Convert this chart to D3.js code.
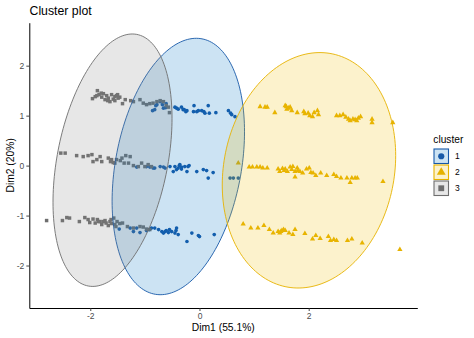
<!DOCTYPE html>
<html><head><meta charset="utf-8">
<script src="https://cdn.jsdelivr.net/npm/d3@7"></script>
<style>body{margin:0;background:#fff}svg{display:block;font-family:"Liberation Sans",Arial,sans-serif}</style>
</head><body><div id="chart"></div>
<script>
// ---------- data ----------
const clusters = ["1", "2", "3"];
const fillColors = ["#0073C2", "#EFC000", "#868686"];
const markColors = ["#1759A8", "#E6B200", "#6E6E6E"];
const shapes = ["circle", "triangle", "square"];

// cluster 1 (blue circles): [Dim1, Dim2]
const cluster1 = [
  [-0.82,1.12],[-0.78,1.22],[-0.72,1.28],[-0.66,1.15],[-0.61,1.24],[-0.45,1.17],[-0.42,1.15],[-0.39,1.13],
  [-0.33,1.17],[-0.30,1.12],[-0.28,1.12],[-0.25,1.08],[-0.23,1.10],[-0.10,1.20],[-0.11,1.08],[-0.05,1.08],
  [-0.02,1.10],[0.04,1.10],[0.08,1.08],[0.10,1.05],[0.16,1.20],[0.18,1.05],[0.30,1.06],[0.53,1.10],
  [0.57,1.05],[0.59,1.02],[0.65,0.98],[-0.86,1.10],[-0.80,1.20],[-0.68,1.22],[-0.62,1.16],
  [-1.15,-0.03],[-0.97,-0.02],[-0.82,-0.05],[-0.72,-0.02],[-0.63,-0.05],[-0.54,-0.02],[-0.48,-0.12],
  [-0.45,-0.02],[-0.42,-0.08],[-0.37,0.00],[-0.33,-0.07],[-0.27,-0.02],[-0.21,-0.02],[-0.05,-0.12],
  [0.07,-0.08],[0.13,-0.10],[0.16,-0.25],[0.25,-0.14],[0.56,-0.25],[0.62,-0.25],[0.71,-0.25],
  [-0.91,-0.03],[-0.85,-0.05],[-0.66,-0.03],[-0.39,-0.05],[-0.36,0.02],[-0.33,-0.03],[-0.23,-0.12],[-0.19,0.00],
  [-1.47,-1.27],[-1.27,-1.25],[-1.21,-1.32],[-1.15,-1.25],[-1.09,-1.34],[-0.92,-1.28],[-0.82,-1.25],
  [-0.75,-1.28],[-0.69,-1.32],[-0.66,-1.35],[-0.61,-1.30],[-0.57,-1.34],[-0.51,-1.32],[-0.45,-1.35],
  [-0.42,-1.25],[-0.39,-1.38],[-0.23,-1.52],[-0.14,-1.35],[0.00,-1.42],[0.27,-1.38],
  [-0.97,-1.30],[-0.88,-1.25],[-0.63,-1.32],[-0.55,-1.28],[-0.43,-1.30],[-0.02,-1.40]
];
// cluster 2 (yellow triangles)
const cluster2 = [
  [1.11,1.18],[1.20,1.17],[1.24,1.17],[1.38,1.06],[1.57,1.20],[1.60,1.13],[1.66,1.17],[1.69,1.10],
  [1.79,1.06],[1.91,1.08],[1.93,1.04],[1.99,1.05],[2.02,1.00],[2.07,0.98],[2.10,1.06],[2.16,1.10],
  [2.18,1.02],[2.51,1.00],[2.57,1.00],[2.63,1.02],[2.68,0.97],[2.73,0.93],[2.76,0.90],[2.81,0.93],
  [2.85,0.92],[2.91,0.95],[2.95,0.98],[3.16,0.93],[3.16,0.86],[3.54,0.86],[1.59,1.18],[1.63,1.15],[2.88,0.90],
  [0.71,0.05],[0.91,-0.03],[0.97,-0.03],[1.05,-0.03],[1.11,-0.03],[1.16,-0.05],[1.24,-0.05],[1.44,-0.07],
  [1.47,-0.12],[1.57,-0.07],[1.61,-0.12],[1.66,-0.03],[1.69,-0.08],[1.75,-0.12],[1.75,-0.23],[1.79,-0.05],
  [1.84,-0.12],[1.89,-0.15],[1.96,-0.07],[2.01,-0.05],[2.04,-0.14],[2.08,-0.15],[2.13,-0.20],[2.22,-0.15],
  [2.33,-0.20],[2.46,-0.18],[2.51,-0.22],[2.59,-0.25],[2.70,-0.25],[2.76,-0.34],[2.79,-0.25],[2.85,-0.25],
  [2.89,-0.25],[3.36,-0.32],[1.52,-0.06],[1.71,-0.02],[1.80,-0.10],[1.55,-0.10],
  [0.80,-1.17],[0.94,-1.25],[1.07,-1.25],[1.18,-1.20],[1.28,-1.28],[1.35,-1.35],[1.44,-1.32],[1.47,-1.35],
  [1.51,-1.30],[1.57,-1.30],[1.64,-1.35],[1.71,-1.38],[1.75,-1.28],[1.93,-1.36],[2.07,-1.47],[2.13,-1.40],
  [2.21,-1.46],[2.36,-1.42],[2.40,-1.50],[2.46,-1.48],[2.51,-1.50],[2.71,-1.50],[2.79,-1.47],[2.98,-1.55],
  [3.67,-1.68],[1.49,-1.32],[1.54,-1.28]
];
// cluster 3 (gray squares)
const cluster3 = [
  [-1.96,1.34],[-1.91,1.38],[-1.87,1.50],[-1.84,1.42],[-1.79,1.37],[-1.76,1.44],[-1.73,1.32],[-1.70,1.40],
  [-1.67,1.35],[-1.64,1.28],[-1.61,1.42],[-1.58,1.33],[-1.55,1.38],[-1.52,1.40],[-1.49,1.35],[-1.46,1.37],
  [-1.41,1.24],[-1.36,1.32],[-1.26,1.30],[-1.21,1.28],[-1.09,1.32],[-1.03,1.25],[-0.97,1.22],[-0.91,1.24],
  [-0.85,1.25],[-0.78,1.28],[-0.72,1.30],[-0.66,1.28],[-0.61,1.20],[-0.57,1.17],[-0.55,1.06],
  [-1.88,1.40],[-1.80,1.45],[-1.68,1.30],[-1.55,1.30],[-1.50,1.42],
  [-2.54,0.25],[-2.46,0.25],[-2.25,0.20],[-2.13,0.18],[-2.04,0.20],[-1.97,0.22],[-1.95,0.08],[-1.88,0.12],
  [-1.82,0.18],[-1.79,0.08],[-1.67,0.15],[-1.61,0.12],[-1.58,0.06],[-1.52,0.12],[-1.42,0.15],[-1.35,0.20],
  [-1.30,0.05],[-1.27,0.18],[-1.21,0.00],[-1.12,-0.02],[-1.06,0.05],[-1.00,-0.02],[-0.94,0.02],[-0.88,-0.02],
  [-1.63,0.08],[-1.55,0.05],[-1.45,0.10],[-1.38,0.05],
  [-2.80,-1.10],[-2.51,-1.10],[-2.43,-1.04],[-2.38,-1.05],[-2.20,-1.12],[-2.10,-1.04],[-2.04,-1.08],[-2.01,-1.14],
  [-1.95,-1.07],[-1.91,-1.15],[-1.87,-1.08],[-1.82,-1.12],[-1.79,-1.18],[-1.76,-1.12],[-1.71,-1.15],[-1.67,-1.20],
  [-1.64,-1.12],[-1.61,-1.16],[-1.57,-1.05],[-1.53,-1.22],[-1.51,-1.12],[-1.46,-1.16],[-1.41,-1.15],[-1.32,-1.22],
  [-1.21,-1.25],[-1.09,-1.22],[-1.03,-1.23],[-0.97,-1.27],[-0.91,-1.28],
  [-1.85,-1.12],[-1.73,-1.10],[-1.62,-1.08],[-1.55,-1.18]
];
const clusterPoints = [cluster1, cluster2, cluster3];

// concentration ellipses per cluster (centre and covariance-like matrix, data units)
const ellipseCx   = [-0.388, 2.005, -1.593];
const ellipseCy   = [-0.018, -0.094, 0.108];
const ellipseVarX = [1.470, 2.522, 1.188];
const ellipseVarY = [6.584, 5.551, 6.381];
const ellipseCov  = [0.842, 0.466, 0.916];

const xDomain = [-3.117, 3.989];
const yDomain = [-2.85, 2.86];
const xTicks = [-2, 0, 2];
const yTicks = [-2, -1, 0, 1, 2];

const title = "Cluster plot";
const xTitle = "Dim1 (55.1%)";
const yTitle = "Dim2 (20%)";
const legendTitle = "cluster";

// ---------- drawing ----------
const W = 474, H = 338;
const m = {left: 29.3, right: 417.3, top: 22.7, bottom: 308};
const svg = d3.select("#chart").append("svg").attr("width", W).attr("height", H);
const x = d3.scaleLinear().domain(xDomain).range([m.left, m.right]);
const y = d3.scaleLinear().domain(yDomain).range([m.bottom, m.top]);

function symbolPath(shape, size) {
  const t = shape === "circle" ? d3.symbolCircle : shape === "triangle" ? d3.symbolTriangle : d3.symbolSquare;
  return d3.symbol().type(t).size(size)();
}
const symSize = {circle: 10.5, triangle: 12, square: 12};

// points (drawn first, as in ggscatter)
clusterPoints.forEach((pts, i) => {
  svg.append("g").selectAll("path").data(pts).join("path")
    .attr("d", symbolPath(shapes[i], symSize[shapes[i]]))
    .attr("transform", d => `translate(${x(d[0])},${y(d[1])})`)
    .attr("fill", markColors[i]);
});

// ellipses
const line = d3.line().x(d => x(d[0])).y(d => y(d[1])).curve(d3.curveLinearClosed);
clusters.forEach((c, i) => {
  const a = Math.sqrt(ellipseVarX[i]);
  const b = ellipseCov[i] / a;
  const cc = Math.sqrt(ellipseVarY[i] - b * b);
  const pts = d3.range(0, 360, 2).map(deg => {
    const t = deg * Math.PI / 180;
    return [ellipseCx[i] + a * Math.cos(t), ellipseCy[i] + b * Math.cos(t) + cc * Math.sin(t)];
  });
  svg.append("path").attr("d", line(pts))
    .attr("fill", fillColors[i]).attr("fill-opacity", 0.2)
    .attr("stroke", markColors[i]).attr("stroke-width", 0.9);
});

// axes
const fmt = d => String(d);
const gx = svg.append("g").attr("transform", `translate(0,${m.bottom})`)
  .call(d3.axisBottom(x).tickValues(xTicks).tickFormat(fmt).tickSize(3).tickPadding(2).tickSizeOuter(0));
const gy = svg.append("g").attr("transform", `translate(${m.left},0)`)
  .call(d3.axisLeft(y).tickValues(yTicks).tickFormat(fmt).tickSize(3).tickPadding(2).tickSizeOuter(0));
[gx, gy].forEach(g => {
  g.select(".domain").attr("stroke", "#000").attr("stroke-width", 1);
  g.selectAll(".tick line").attr("stroke", "#333").attr("stroke-width", 0.9);
  g.selectAll(".tick text").attr("fill", "#4d4d4d").style("font-size", "8.5px").style("font-family", "Liberation Sans, Arial, sans-serif");
});

// titles
svg.append("text").attr("x", 29.5).attr("y", 14.5).text(title)
  .style("font-size", "12.3px").attr("fill", "#000");
svg.append("text").attr("x", (m.left + m.right) / 2).attr("y", 330.5).attr("text-anchor", "middle")
  .text(xTitle).style("font-size", "10.3px").attr("fill", "#000");
svg.append("text").attr("transform", `translate(13.5,${(m.top + m.bottom) / 2}) rotate(-90)`)
  .attr("text-anchor", "middle").text(yTitle).style("font-size", "10.3px").attr("fill", "#000");

// legend
const lg = svg.append("g");
lg.append("text").attr("x", 433.3).attr("y", 142.5).text(legendTitle).style("font-size", "10.2px");
clusters.forEach((c, i) => {
  const ky = 149 + i * 16;
  lg.append("rect").attr("x", 434).attr("y", ky).attr("width", 14.5).attr("height", 14.5)
    .attr("fill", fillColors[i]).attr("fill-opacity", 0.2).attr("stroke", markColors[i]).attr("stroke-width", 1.1);
  lg.append("path").attr("d", symbolPath(shapes[i], shapes[i] === "circle" ? 30 : 34))
    .attr("transform", `translate(${434 + 7.25},${ky + 7.25})`).attr("fill", markColors[i]);
  lg.append("text").attr("x", 455).attr("y", ky + 7.25).attr("dy", "0.35em").text(c)
    .style("font-size", "8.5px").attr("fill", "#000");
});
</script></body></html>
